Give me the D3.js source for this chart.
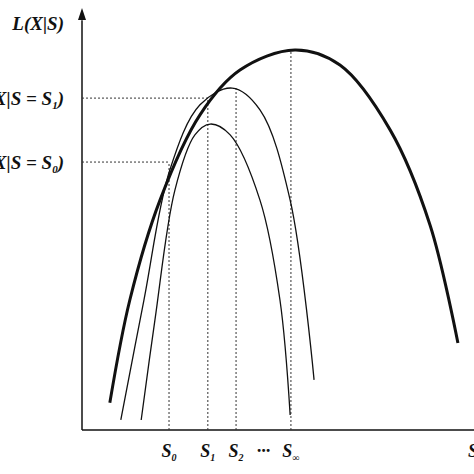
<!DOCTYPE html>
<html><head><meta charset="utf-8">
<script src="https://cdn.jsdelivr.net/npm/d3@7"></script>
<style>body{margin:0;background:#fff}svg{display:block}text{font-family:"Liberation Serif",serif;font-style:italic;font-weight:bold;fill:#111}</style>
</head><body><svg width="474" height="474"></svg>
<script>
// curve sample points (data units 0..100)
const envelopeX = [7.1,12.2,19.9,30.1,40.3,54.3,65.8,78.6,88.8,95.9];
const envelopeY = [6.5,31.1,55.0,75.4,86.1,90.9,87.3,71.8,49.0,20.8];
const curveS1X = [9.9,15.8,22.4,30.1,38.3,45.4,53.1,59.2];
const curveS1Y = [2.4,31.1,62.2,77.8,81.8,76.6,55.0,12.0];
const curveS0X = [15.1,18.6,23.7,28.8,32.7,37.8,45.4,50.5,53.1];
const curveS0Y = [2.4,26.3,57.4,70.6,73.2,70.6,55.0,31.1,3.6];
// vertical guide positions and heights
const tickNames = ["0","1","2","∞"];
const tickX = [22.2,32.1,39.3,53.3];
const tickTop = [64.1,79.4,81.8,90.9];
const hLevels = [79.4,64.1];
const hLabels = ["1","0"];
const hEndX = [32.1,22.2];

const svg = d3.select("svg");
const x = d3.scaleLinear().domain([0,100]).range([82,474]);
const y = d3.scaleLinear().domain([0,100]).range([430,12]);
const line = d3.line().x(d=>x(d[0])).y(d=>y(d[1])).curve(d3.curveCatmullRom.alpha(0.5));

// axes
svg.append("line").attr("x1",x(0)).attr("x2",474).attr("y1",y(0)).attr("y2",y(0)).attr("stroke","#111").attr("stroke-width",1.5);
svg.append("line").attr("x1",x(0)).attr("x2",x(0)).attr("y1",y(0)).attr("y2",y(98)).attr("stroke","#111").attr("stroke-width",1.5);
svg.append("path").attr("d",`M${x(0)},8 L${x(0)-4},20 L${x(0)+4},20Z`).attr("fill","#111");

// dashed guides
const dash = "2,2";
hLevels.forEach((v,i)=>svg.append("line").attr("x1",x(0)).attr("x2",x(hEndX[i])).attr("y1",y(v)).attr("y2",y(v)).attr("stroke","#333").attr("stroke-dasharray",dash));
tickX.forEach((v,i)=>svg.append("line").attr("x1",x(v)).attr("x2",x(v)).attr("y1",y(0)).attr("y2",y(tickTop[i])).attr("stroke","#333").attr("stroke-dasharray",dash));

// curves
const zip=(a,b)=>a.map((v,i)=>[v,b[i]]);
svg.append("path").attr("d",line(zip(envelopeX,envelopeY))).attr("fill","none").attr("stroke","#111").attr("stroke-width",3);
svg.append("path").attr("d",line(zip(curveS1X,curveS1Y))).attr("fill","none").attr("stroke","#111").attr("stroke-width",1.3);
svg.append("path").attr("d",line(zip(curveS0X,curveS0Y))).attr("fill","none").attr("stroke","#111").attr("stroke-width",1.3);

// labels
const t = svg.append("text").attr("x",64).attr("y",30).attr("text-anchor","end").attr("font-size",19);
t.text("L(X|S)");
hLevels.forEach((v,i)=>{
  const tt = svg.append("text").attr("x",64).attr("y",y(v)+7).attr("text-anchor","end").attr("font-size",19);
  tt.append("tspan").text("L(X|S = S");
  tt.append("tspan").attr("font-size",11).attr("dy",4).text(hLabels[i]);
  tt.append("tspan").attr("dy",-4).text(")");
});
tickX.forEach((v,i)=>{
  const tt = svg.append("text").attr("x",x(v)).attr("y",457).attr("text-anchor","middle").attr("font-size",18);
  tt.append("tspan").text("S");
  tt.append("tspan").attr("font-size",10).attr("dy",4).text(tickNames[i]);
});
svg.append("text").attr("x",x(46.3)).attr("y",457).attr("text-anchor","middle").attr("font-size",18).text("···");
svg.append("text").attr("x",468).attr("y",457).attr("font-size",18).text("S");
</script></body></html>
